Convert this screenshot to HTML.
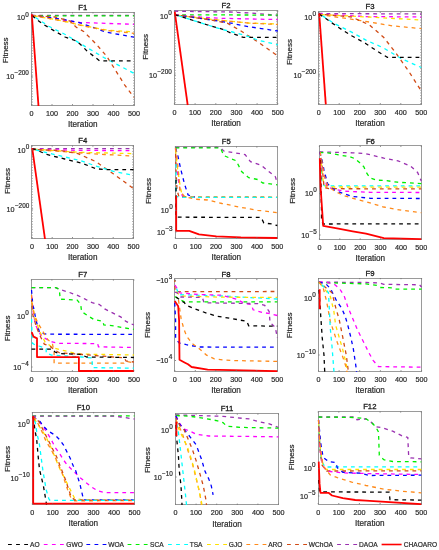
<!DOCTYPE html>
<html><head><meta charset="utf-8"><style>
html,body{margin:0;padding:0;background:#fff;width:439px;height:550px;overflow:hidden}
svg{will-change:transform} svg text{font-family:"Liberation Sans", sans-serif;stroke:#2a2a2a;stroke-width:0.2px}
</style></head><body>
<svg width="439" height="550" viewBox="0 0 439 550" style="display:block">
<rect width="439" height="550" fill="#fff"/>
<rect x="31.5" y="12.5" width="103.0" height="93.0" fill="none" stroke="#9a9a9a" stroke-width="1"/>
<line x1="32.4" y1="12.5" x2="32.4" y2="105.5" stroke="#8a8a8a" stroke-width="0.8" stroke-dasharray="0.9 1.8"/>
<line x1="133.6" y1="12.5" x2="133.6" y2="105.5" stroke="#8a8a8a" stroke-width="0.8" stroke-dasharray="0.9 1.8"/>
<clipPath id="cF1"><rect x="30.7" y="11.399999999999999" width="104.1" height="94.69999999999999"/></clipPath>
<g clip-path="url(#cF1)">
<polyline points="31.5,15.3 134.0,15.3" fill="none" stroke="#9a30b0" stroke-width="1.3" stroke-dasharray="3.8 4" stroke-dashoffset="0"/>
<polyline points="31.5,15.9 134.0,15.9" fill="none" stroke="#00ee00" stroke-width="1.3" stroke-dasharray="3.8 4" stroke-dashoffset="0"/>
<polyline points="32.0,15.5 48.8,17.5 65.0,20.5 80.0,22.5 134.0,24.3" fill="none" stroke="#ff00ff" stroke-width="1.3" stroke-dasharray="3.8 4" stroke-dashoffset="0"/>
<polyline points="32.0,15.5 48.8,17.5 64.0,19.5 80.0,22.8 106.8,32.3 134.0,37.1" fill="none" stroke="#0000ff" stroke-width="1.3" stroke-dasharray="3.8 4" stroke-dashoffset="0"/>
<polyline points="32.0,15.5 55.0,19.5 67.6,22.0 80.0,25.0 106.8,30.0 134.0,32.0" fill="none" stroke="#ffe000" stroke-width="1.3" stroke-dasharray="3.8 4" stroke-dashoffset="5.8"/>
<polyline points="32.0,15.5 55.0,19.5 67.6,22.0 80.0,25.2 106.8,30.5 134.0,33.3" fill="none" stroke="#ff8a1a" stroke-width="1.3" stroke-dasharray="3.8 4" stroke-dashoffset="0"/>
<polyline points="32.0,15.5 55.0,17.0 70.0,21.0 76.0,27.0 83.6,31.4 96.0,43.9 106.8,56.4 115.7,70.6 124.6,84.9 134.0,97.4" fill="none" stroke="#d04a14" stroke-width="1.3" stroke-dasharray="3.8 4" stroke-dashoffset="1.9"/>
<polyline points="32.0,15.5 39.4,20.0 48.8,26.3 66.3,35.0 81.0,44.0 105.0,58.2 134.0,73.3" fill="none" stroke="#00ffff" stroke-width="1.3" stroke-dasharray="3.8 4" stroke-dashoffset="3.9"/>
<polyline points="32.0,15.5 37.5,20.0 42.5,23.8 55.0,31.3 65.0,37.0 75.0,40.5 80.0,44.0 87.0,51.0 99.6,60.8 134.0,60.8" fill="none" stroke="#000000" stroke-width="1.3" stroke-dasharray="3.8 4" stroke-dashoffset="0"/>
<polyline points="31.8,14.3 38.5,106.0" fill="none" stroke="#ff0000" stroke-width="1.8" stroke-linejoin="round"/>
</g>
<line x1="31.5" y1="105.3" x2="31.5" y2="104.1" stroke="#707070" stroke-width="0.8"/>
<line x1="31.5" y1="12.2" x2="31.5" y2="13.399999999999999" stroke="#707070" stroke-width="0.8"/>
<text x="31.5" y="115.9" text-anchor="middle" font-size="7.2" fill="#2a2a2a">0</text>
<line x1="52.0" y1="105.3" x2="52.0" y2="104.1" stroke="#707070" stroke-width="0.8"/>
<line x1="52.0" y1="12.2" x2="52.0" y2="13.399999999999999" stroke="#707070" stroke-width="0.8"/>
<text x="52.0" y="115.9" text-anchor="middle" font-size="7.2" fill="#2a2a2a">100</text>
<line x1="72.5" y1="105.3" x2="72.5" y2="104.1" stroke="#707070" stroke-width="0.8"/>
<line x1="72.5" y1="12.2" x2="72.5" y2="13.399999999999999" stroke="#707070" stroke-width="0.8"/>
<text x="72.5" y="115.9" text-anchor="middle" font-size="7.2" fill="#2a2a2a">200</text>
<line x1="93.0" y1="105.3" x2="93.0" y2="104.1" stroke="#707070" stroke-width="0.8"/>
<line x1="93.0" y1="12.2" x2="93.0" y2="13.399999999999999" stroke="#707070" stroke-width="0.8"/>
<text x="93.0" y="115.9" text-anchor="middle" font-size="7.2" fill="#2a2a2a">300</text>
<line x1="113.5" y1="105.3" x2="113.5" y2="104.1" stroke="#707070" stroke-width="0.8"/>
<line x1="113.5" y1="12.2" x2="113.5" y2="13.399999999999999" stroke="#707070" stroke-width="0.8"/>
<text x="113.5" y="115.9" text-anchor="middle" font-size="7.2" fill="#2a2a2a">400</text>
<line x1="134.0" y1="105.3" x2="134.0" y2="104.1" stroke="#707070" stroke-width="0.8"/>
<line x1="134.0" y1="12.2" x2="134.0" y2="13.399999999999999" stroke="#707070" stroke-width="0.8"/>
<text x="134.0" y="115.9" text-anchor="middle" font-size="7.2" fill="#2a2a2a">500</text>
<text x="82.8" y="127.1" text-anchor="middle" font-size="8.2" fill="#2a2a2a">Iteration</text>
<text x="82.8" y="9.9" text-anchor="middle" font-size="7.7" font-weight="normal" fill="#1a1a1a" style="stroke:#1a1a1a;stroke-width:0.3px">F1</text>
<text transform="translate(8.2,50.3) rotate(-90)" text-anchor="middle" font-size="8" fill="#2a2a2a">Fitness</text>
<line x1="31.5" y1="17.8" x2="32.7" y2="17.8" stroke="#707070" stroke-width="0.8"/>
<text x="28.9" y="20.4" text-anchor="end" font-size="7.2" fill="#2a2a2a">10<tspan dx="0.3" dy="-3.7" font-size="6.4">0</tspan></text>
<line x1="31.5" y1="76.3" x2="32.7" y2="76.3" stroke="#707070" stroke-width="0.8"/>
<text x="28.9" y="78.9" text-anchor="end" font-size="7.2" fill="#2a2a2a">10<tspan dx="0.3" dy="-3.7" font-size="6.4">−200</tspan></text>
<rect x="174.5" y="10.5" width="103.0" height="94.0" fill="none" stroke="#9a9a9a" stroke-width="1"/>
<line x1="175.4" y1="10.5" x2="175.4" y2="104.5" stroke="#8a8a8a" stroke-width="0.8" stroke-dasharray="0.9 1.8"/>
<line x1="276.6" y1="10.5" x2="276.6" y2="104.5" stroke="#8a8a8a" stroke-width="0.8" stroke-dasharray="0.9 1.8"/>
<clipPath id="cF2"><rect x="173.6" y="9.7" width="105.0" height="95.5"/></clipPath>
<g clip-path="url(#cF2)">
<polyline points="174.4,11.2 230.0,12.0 250.0,13.0 277.8,15.3" fill="none" stroke="#9a30b0" stroke-width="1.3" stroke-dasharray="3.8 4" stroke-dashoffset="0"/>
<polyline points="174.4,14.8 277.8,15.1" fill="none" stroke="#00ee00" stroke-width="1.3" stroke-dasharray="3.8 4" stroke-dashoffset="0"/>
<polyline points="175.0,14.5 200.0,17.0 222.0,18.3 277.8,19.6" fill="none" stroke="#ff00ff" stroke-width="1.3" stroke-dasharray="3.8 4" stroke-dashoffset="0"/>
<polyline points="175.0,14.8 200.0,18.0 222.0,20.5 248.7,23.0 277.8,24.0" fill="none" stroke="#ffe000" stroke-width="1.3" stroke-dasharray="3.8 4" stroke-dashoffset="5.8"/>
<polyline points="175.0,14.8 200.0,18.0 222.0,20.5 248.7,23.1 277.8,24.5" fill="none" stroke="#ff8a1a" stroke-width="1.3" stroke-dasharray="3.8 4" stroke-dashoffset="0"/>
<polyline points="175.0,14.8 205.0,19.0 230.9,23.1 248.7,26.7 277.8,31.0" fill="none" stroke="#0000ff" stroke-width="1.3" stroke-dasharray="3.8 4" stroke-dashoffset="0"/>
<polyline points="175.0,14.8 205.0,19.0 227.3,23.1 239.8,30.2 257.6,41.8 277.8,56.0" fill="none" stroke="#d04a14" stroke-width="1.3" stroke-dasharray="3.8 4" stroke-dashoffset="1.9"/>
<polyline points="175.0,14.8 179.1,16.0 193.4,20.5 207.7,25.0 222.0,29.0 230.9,33.0 243.4,37.4 277.8,37.4" fill="none" stroke="#000000" stroke-width="1.3" stroke-dasharray="3.8 4" stroke-dashoffset="0"/>
<polyline points="175.0,14.8 179.1,16.0 193.4,20.5 207.7,25.0 222.0,29.4 232.7,32.0 248.7,36.5 257.6,40.0 277.8,44.8" fill="none" stroke="#00ffff" stroke-width="1.3" stroke-dasharray="3.8 4" stroke-dashoffset="3.9"/>
<polyline points="174.7,11.6 187.7,105.2" fill="none" stroke="#ff0000" stroke-width="1.8" stroke-linejoin="round"/>
</g>
<line x1="174.4" y1="104.4" x2="174.4" y2="103.2" stroke="#707070" stroke-width="0.8"/>
<line x1="174.4" y1="10.5" x2="174.4" y2="11.7" stroke="#707070" stroke-width="0.8"/>
<text x="174.4" y="115.0" text-anchor="middle" font-size="7.2" fill="#2a2a2a">0</text>
<line x1="195.1" y1="104.4" x2="195.1" y2="103.2" stroke="#707070" stroke-width="0.8"/>
<line x1="195.1" y1="10.5" x2="195.1" y2="11.7" stroke="#707070" stroke-width="0.8"/>
<text x="195.1" y="115.0" text-anchor="middle" font-size="7.2" fill="#2a2a2a">100</text>
<line x1="215.8" y1="104.4" x2="215.8" y2="103.2" stroke="#707070" stroke-width="0.8"/>
<line x1="215.8" y1="10.5" x2="215.8" y2="11.7" stroke="#707070" stroke-width="0.8"/>
<text x="215.8" y="115.0" text-anchor="middle" font-size="7.2" fill="#2a2a2a">200</text>
<line x1="236.4" y1="104.4" x2="236.4" y2="103.2" stroke="#707070" stroke-width="0.8"/>
<line x1="236.4" y1="10.5" x2="236.4" y2="11.7" stroke="#707070" stroke-width="0.8"/>
<text x="236.4" y="115.0" text-anchor="middle" font-size="7.2" fill="#2a2a2a">300</text>
<line x1="257.1" y1="104.4" x2="257.1" y2="103.2" stroke="#707070" stroke-width="0.8"/>
<line x1="257.1" y1="10.5" x2="257.1" y2="11.7" stroke="#707070" stroke-width="0.8"/>
<text x="257.1" y="115.0" text-anchor="middle" font-size="7.2" fill="#2a2a2a">400</text>
<line x1="277.8" y1="104.4" x2="277.8" y2="103.2" stroke="#707070" stroke-width="0.8"/>
<line x1="277.8" y1="10.5" x2="277.8" y2="11.7" stroke="#707070" stroke-width="0.8"/>
<text x="277.8" y="115.0" text-anchor="middle" font-size="7.2" fill="#2a2a2a">500</text>
<text x="226.1" y="126.2" text-anchor="middle" font-size="8.2" fill="#2a2a2a">Iteration</text>
<text x="226.1" y="8.2" text-anchor="middle" font-size="7.7" font-weight="normal" fill="#1a1a1a" style="stroke:#1a1a1a;stroke-width:0.3px">F2</text>
<text transform="translate(147.7,46.8) rotate(-90)" text-anchor="middle" font-size="8" fill="#2a2a2a">Fitness</text>
<line x1="174.4" y1="16.5" x2="175.6" y2="16.5" stroke="#707070" stroke-width="0.8"/>
<text x="171.8" y="19.1" text-anchor="end" font-size="7.2" fill="#2a2a2a">10<tspan dx="0.3" dy="-3.7" font-size="6.4">0</tspan></text>
<line x1="174.4" y1="75" x2="175.6" y2="75" stroke="#707070" stroke-width="0.8"/>
<text x="171.8" y="77.6" text-anchor="end" font-size="7.2" fill="#2a2a2a">10<tspan dx="0.3" dy="-3.7" font-size="6.4">−200</tspan></text>
<rect x="318.5" y="11.5" width="103.0" height="93.0" fill="none" stroke="#9a9a9a" stroke-width="1"/>
<line x1="319.4" y1="11.5" x2="319.4" y2="104.5" stroke="#8a8a8a" stroke-width="0.8" stroke-dasharray="0.9 1.8"/>
<line x1="420.6" y1="11.5" x2="420.6" y2="104.5" stroke="#8a8a8a" stroke-width="0.8" stroke-dasharray="0.9 1.8"/>
<clipPath id="cF3"><rect x="317.9" y="10.899999999999999" width="104.20000000000002" height="94.19999999999999"/></clipPath>
<g clip-path="url(#cF3)">
<polyline points="318.7,13.5 421.3,14.0" fill="none" stroke="#9a30b0" stroke-width="1.3" stroke-dasharray="3.8 4" stroke-dashoffset="0"/>
<polyline points="319.0,14.0 366.0,16.5 421.3,17.0" fill="none" stroke="#ff00ff" stroke-width="1.3" stroke-dasharray="3.8 4" stroke-dashoffset="0"/>
<polyline points="319.0,14.5 351.7,16.1 421.3,20.0" fill="none" stroke="#ffe000" stroke-width="1.3" stroke-dasharray="3.8 4" stroke-dashoffset="5.8"/>
<polyline points="319.0,14.5 323.1,15.2 342.8,17.9 360.6,20.6 392.7,25.9 421.3,28.6" fill="none" stroke="#ff8a1a" stroke-width="1.3" stroke-dasharray="3.8 4" stroke-dashoffset="0"/>
<polyline points="319.0,14.0 351.7,17.0 369.6,25.0 383.8,37.5 396.2,53.5 408.7,71.3 421.3,91.0" fill="none" stroke="#d04a14" stroke-width="1.3" stroke-dasharray="3.8 4" stroke-dashoffset="1.9"/>
<polyline points="319.0,14.0 323.0,16.1 333.8,23.3 351.7,32.2 366.0,40.1 383.8,48.1 401.6,58.8 421.3,67.5" fill="none" stroke="#00ffff" stroke-width="1.3" stroke-dasharray="3.8 4" stroke-dashoffset="3.9"/>
<polyline points="319.0,14.0 324.9,17.9 337.4,26.8 351.7,35.8 366.0,43.7 376.7,50.8 387.4,57.4 421.3,57.4" fill="none" stroke="#000000" stroke-width="1.3" stroke-dasharray="3.8 4" stroke-dashoffset="0"/>
<polyline points="319.2,13.5 325.8,104.4" fill="none" stroke="#ff0000" stroke-width="1.8" stroke-linejoin="round"/>
</g>
<line x1="318.7" y1="104.3" x2="318.7" y2="103.1" stroke="#707070" stroke-width="0.8"/>
<line x1="318.7" y1="11.7" x2="318.7" y2="12.899999999999999" stroke="#707070" stroke-width="0.8"/>
<text x="318.7" y="114.9" text-anchor="middle" font-size="7.2" fill="#2a2a2a">0</text>
<line x1="339.2" y1="104.3" x2="339.2" y2="103.1" stroke="#707070" stroke-width="0.8"/>
<line x1="339.2" y1="11.7" x2="339.2" y2="12.899999999999999" stroke="#707070" stroke-width="0.8"/>
<text x="339.2" y="114.9" text-anchor="middle" font-size="7.2" fill="#2a2a2a">100</text>
<line x1="359.7" y1="104.3" x2="359.7" y2="103.1" stroke="#707070" stroke-width="0.8"/>
<line x1="359.7" y1="11.7" x2="359.7" y2="12.899999999999999" stroke="#707070" stroke-width="0.8"/>
<text x="359.7" y="114.9" text-anchor="middle" font-size="7.2" fill="#2a2a2a">200</text>
<line x1="380.3" y1="104.3" x2="380.3" y2="103.1" stroke="#707070" stroke-width="0.8"/>
<line x1="380.3" y1="11.7" x2="380.3" y2="12.899999999999999" stroke="#707070" stroke-width="0.8"/>
<text x="380.3" y="114.9" text-anchor="middle" font-size="7.2" fill="#2a2a2a">300</text>
<line x1="400.8" y1="104.3" x2="400.8" y2="103.1" stroke="#707070" stroke-width="0.8"/>
<line x1="400.8" y1="11.7" x2="400.8" y2="12.899999999999999" stroke="#707070" stroke-width="0.8"/>
<text x="400.8" y="114.9" text-anchor="middle" font-size="7.2" fill="#2a2a2a">400</text>
<line x1="421.3" y1="104.3" x2="421.3" y2="103.1" stroke="#707070" stroke-width="0.8"/>
<line x1="421.3" y1="11.7" x2="421.3" y2="12.899999999999999" stroke="#707070" stroke-width="0.8"/>
<text x="421.3" y="114.9" text-anchor="middle" font-size="7.2" fill="#2a2a2a">500</text>
<text x="370.0" y="126.1" text-anchor="middle" font-size="8.2" fill="#2a2a2a">Iteration</text>
<text x="370.0" y="9.4" text-anchor="middle" font-size="7.7" font-weight="normal" fill="#1a1a1a" style="stroke:#1a1a1a;stroke-width:0.3px">F3</text>
<text transform="translate(291.5,52.0) rotate(-90)" text-anchor="middle" font-size="8" fill="#2a2a2a">Fitness</text>
<line x1="318.7" y1="17.5" x2="319.9" y2="17.5" stroke="#707070" stroke-width="0.8"/>
<text x="316.1" y="20.1" text-anchor="end" font-size="7.2" fill="#2a2a2a">10<tspan dx="0.3" dy="-3.7" font-size="6.4">0</tspan></text>
<line x1="318.7" y1="75" x2="319.9" y2="75" stroke="#707070" stroke-width="0.8"/>
<text x="316.1" y="77.6" text-anchor="end" font-size="7.2" fill="#2a2a2a">10<tspan dx="0.3" dy="-3.7" font-size="6.4">−200</tspan></text>
<rect x="31.5" y="145.5" width="102.0" height="93.0" fill="none" stroke="#9a9a9a" stroke-width="1"/>
<line x1="32.4" y1="145.5" x2="32.4" y2="238.5" stroke="#8a8a8a" stroke-width="0.8" stroke-dasharray="0.9 1.8"/>
<line x1="132.6" y1="145.5" x2="132.6" y2="238.5" stroke="#8a8a8a" stroke-width="0.8" stroke-dasharray="0.9 1.8"/>
<clipPath id="cF4"><rect x="31.099999999999998" y="144.7" width="103.19999999999999" height="94.29999999999998"/></clipPath>
<g clip-path="url(#cF4)">
<polyline points="32.0,148.6 133.5,148.6" fill="none" stroke="#9a30b0" stroke-width="1.3" stroke-dasharray="3.8 4" stroke-dashoffset="0"/>
<polyline points="32.0,149.2 78.0,150.4 133.5,150.6" fill="none" stroke="#ff00ff" stroke-width="1.3" stroke-dasharray="3.8 4" stroke-dashoffset="0"/>
<polyline points="32.0,149.0 60.0,151.0 78.0,152.3 133.5,153.6" fill="none" stroke="#ffe000" stroke-width="1.3" stroke-dasharray="3.8 4" stroke-dashoffset="5.8"/>
<polyline points="32.0,149.5 60.0,151.5 78.0,152.7 104.7,154.5 133.5,156.0" fill="none" stroke="#ff8a1a" stroke-width="1.3" stroke-dasharray="3.8 4" stroke-dashoffset="0"/>
<polyline points="32.0,149.5 60.0,150.5 78.0,153.6 95.8,161.6 113.6,174.0 133.5,188.5" fill="none" stroke="#d04a14" stroke-width="1.3" stroke-dasharray="3.8 4" stroke-dashoffset="1.9"/>
<polyline points="32.0,149.0 36.1,150.0 50.4,153.6 73.6,159.0 80.0,160.5 95.8,166.0 113.6,171.4 133.5,175.3" fill="none" stroke="#00ffff" stroke-width="1.3" stroke-dasharray="3.8 4" stroke-dashoffset="3.9"/>
<polyline points="32.0,149.0 34.4,149.1 46.8,154.5 64.7,159.0 82.5,163.4 95.8,168.7 104.7,169.6 133.5,169.6" fill="none" stroke="#000000" stroke-width="1.3" stroke-dasharray="3.8 4" stroke-dashoffset="0"/>
<polyline points="32.2,148.2 45.0,239.2" fill="none" stroke="#ff0000" stroke-width="1.8" stroke-linejoin="round"/>
</g>
<line x1="31.9" y1="238.2" x2="31.9" y2="237.0" stroke="#707070" stroke-width="0.8"/>
<line x1="31.9" y1="145.5" x2="31.9" y2="146.7" stroke="#707070" stroke-width="0.8"/>
<text x="31.9" y="248.8" text-anchor="middle" font-size="7.2" fill="#2a2a2a">0</text>
<line x1="52.2" y1="238.2" x2="52.2" y2="237.0" stroke="#707070" stroke-width="0.8"/>
<line x1="52.2" y1="145.5" x2="52.2" y2="146.7" stroke="#707070" stroke-width="0.8"/>
<text x="52.2" y="248.8" text-anchor="middle" font-size="7.2" fill="#2a2a2a">100</text>
<line x1="72.5" y1="238.2" x2="72.5" y2="237.0" stroke="#707070" stroke-width="0.8"/>
<line x1="72.5" y1="145.5" x2="72.5" y2="146.7" stroke="#707070" stroke-width="0.8"/>
<text x="72.5" y="248.8" text-anchor="middle" font-size="7.2" fill="#2a2a2a">200</text>
<line x1="92.9" y1="238.2" x2="92.9" y2="237.0" stroke="#707070" stroke-width="0.8"/>
<line x1="92.9" y1="145.5" x2="92.9" y2="146.7" stroke="#707070" stroke-width="0.8"/>
<text x="92.9" y="248.8" text-anchor="middle" font-size="7.2" fill="#2a2a2a">300</text>
<line x1="113.2" y1="238.2" x2="113.2" y2="237.0" stroke="#707070" stroke-width="0.8"/>
<line x1="113.2" y1="145.5" x2="113.2" y2="146.7" stroke="#707070" stroke-width="0.8"/>
<text x="113.2" y="248.8" text-anchor="middle" font-size="7.2" fill="#2a2a2a">400</text>
<line x1="133.5" y1="238.2" x2="133.5" y2="237.0" stroke="#707070" stroke-width="0.8"/>
<line x1="133.5" y1="145.5" x2="133.5" y2="146.7" stroke="#707070" stroke-width="0.8"/>
<text x="133.5" y="248.8" text-anchor="middle" font-size="7.2" fill="#2a2a2a">500</text>
<text x="82.7" y="260.0" text-anchor="middle" font-size="8.2" fill="#2a2a2a">Iteration</text>
<text x="82.7" y="143.2" text-anchor="middle" font-size="7.7" font-weight="normal" fill="#1a1a1a" style="stroke:#1a1a1a;stroke-width:0.3px">F4</text>
<text transform="translate(9.5,181.0) rotate(-90)" text-anchor="middle" font-size="8" fill="#2a2a2a">Fitness</text>
<line x1="31.9" y1="150" x2="33.1" y2="150" stroke="#707070" stroke-width="0.8"/>
<text x="29.3" y="152.6" text-anchor="end" font-size="7.2" fill="#2a2a2a">10<tspan dx="0.3" dy="-3.7" font-size="6.4">0</tspan></text>
<line x1="31.9" y1="209" x2="33.1" y2="209" stroke="#707070" stroke-width="0.8"/>
<text x="29.3" y="211.6" text-anchor="end" font-size="7.2" fill="#2a2a2a">10<tspan dx="0.3" dy="-3.7" font-size="6.4">−200</tspan></text>
<rect x="175.5" y="146.5" width="102.0" height="92.0" fill="none" stroke="#9a9a9a" stroke-width="1"/>
<clipPath id="cF5"><rect x="174.5" y="145.6" width="103.6" height="93.6"/></clipPath>
<g clip-path="url(#cF5)">
<polyline points="175.5,148.0 177.0,170.0 180.0,190.0 183.0,197.3 186.0,197.3" fill="none" stroke="#ff00ff" stroke-width="1.3" stroke-dasharray="3.8 4" stroke-dashoffset="0"/>
<polyline points="175.5,147.3 220.0,147.3 223.7,151.0 245.1,154.6 250.5,161.7 261.1,165.2 266.5,169.7 275.4,176.8 277.3,183.0" fill="none" stroke="#9a30b0" stroke-width="1.3" stroke-dasharray="3.8 4" stroke-dashoffset="0"/>
<polyline points="175.5,147.8 220.5,147.8 223.7,155.5 236.2,160.8 241.6,171.5 248.7,177.7 257.6,179.5 262.9,183.0 277.3,184.8" fill="none" stroke="#00ee00" stroke-width="1.3" stroke-dasharray="3.8 4" stroke-dashoffset="0"/>
<polyline points="175.5,148.0 177.4,153.7 180.9,169.8 184.5,184.0 188.0,194.7 191.6,196.8 195.0,197.0" fill="none" stroke="#0000ff" stroke-width="1.3" stroke-dasharray="3.8 4" stroke-dashoffset="0"/>
<polyline points="175.5,148.0 177.0,165.0 180.0,185.0 182.0,195.0 185.0,197.0 277.3,197.3" fill="none" stroke="#ffe000" stroke-width="1.3" stroke-dasharray="3.8 4" stroke-dashoffset="5.8"/>
<polyline points="175.5,148.0 176.0,170.0 177.0,190.0 179.0,197.0 277.3,197.3" fill="none" stroke="#d04a14" stroke-width="1.3" stroke-dasharray="3.8 4" stroke-dashoffset="1.9"/>
<polyline points="176.0,160.0 176.0,196.5 180.0,197.3 277.3,197.3" fill="none" stroke="#00ffff" stroke-width="1.3" stroke-dasharray="3.8 4" stroke-dashoffset="3.9"/>
<polyline points="175.5,148.0 177.4,160.8 179.1,178.7 180.0,191.2 184.5,196.5 195.2,199.2 207.7,200.0 222.0,203.5 239.8,207.1 257.6,210.3 277.3,212.6" fill="none" stroke="#ff8a1a" stroke-width="1.3" stroke-dasharray="3.8 4" stroke-dashoffset="0"/>
<polyline points="176.0,180.0 176.0,217.2 261.1,217.4 263.8,223.0 271.8,224.0 277.3,225.5" fill="none" stroke="#000000" stroke-width="1.3" stroke-dasharray="3.8 4" stroke-dashoffset="0"/>
<polyline points="176.2,195.5 176.2,230.8 189.2,230.8 199.0,234.3 216.3,236.4 240.9,237.4 277.3,238.0" fill="none" stroke="#ff0000" stroke-width="1.8" stroke-linejoin="round"/>
</g>
<line x1="175.3" y1="238.4" x2="175.3" y2="237.20000000000002" stroke="#707070" stroke-width="0.8"/>
<line x1="175.3" y1="146.4" x2="175.3" y2="147.6" stroke="#707070" stroke-width="0.8"/>
<text x="175.3" y="249.0" text-anchor="middle" font-size="7.2" fill="#2a2a2a">0</text>
<line x1="195.7" y1="238.4" x2="195.7" y2="237.20000000000002" stroke="#707070" stroke-width="0.8"/>
<line x1="195.7" y1="146.4" x2="195.7" y2="147.6" stroke="#707070" stroke-width="0.8"/>
<text x="195.7" y="249.0" text-anchor="middle" font-size="7.2" fill="#2a2a2a">100</text>
<line x1="216.1" y1="238.4" x2="216.1" y2="237.20000000000002" stroke="#707070" stroke-width="0.8"/>
<line x1="216.1" y1="146.4" x2="216.1" y2="147.6" stroke="#707070" stroke-width="0.8"/>
<text x="216.1" y="249.0" text-anchor="middle" font-size="7.2" fill="#2a2a2a">200</text>
<line x1="236.5" y1="238.4" x2="236.5" y2="237.20000000000002" stroke="#707070" stroke-width="0.8"/>
<line x1="236.5" y1="146.4" x2="236.5" y2="147.6" stroke="#707070" stroke-width="0.8"/>
<text x="236.5" y="249.0" text-anchor="middle" font-size="7.2" fill="#2a2a2a">300</text>
<line x1="256.9" y1="238.4" x2="256.9" y2="237.20000000000002" stroke="#707070" stroke-width="0.8"/>
<line x1="256.9" y1="146.4" x2="256.9" y2="147.6" stroke="#707070" stroke-width="0.8"/>
<text x="256.9" y="249.0" text-anchor="middle" font-size="7.2" fill="#2a2a2a">400</text>
<line x1="277.3" y1="238.4" x2="277.3" y2="237.20000000000002" stroke="#707070" stroke-width="0.8"/>
<line x1="277.3" y1="146.4" x2="277.3" y2="147.6" stroke="#707070" stroke-width="0.8"/>
<text x="277.3" y="249.0" text-anchor="middle" font-size="7.2" fill="#2a2a2a">500</text>
<text x="226.3" y="260.2" text-anchor="middle" font-size="8.2" fill="#2a2a2a">Iteration</text>
<text x="226.3" y="144.2" text-anchor="middle" font-size="7.7" font-weight="normal" fill="#1a1a1a" style="stroke:#1a1a1a;stroke-width:0.3px">F5</text>
<text transform="translate(151.1,191.0) rotate(-90)" text-anchor="middle" font-size="8" fill="#2a2a2a">Fitness</text>
<line x1="175.3" y1="210.5" x2="176.5" y2="210.5" stroke="#707070" stroke-width="0.8"/>
<text x="172.7" y="213.1" text-anchor="end" font-size="7.2" fill="#2a2a2a">10<tspan dx="0.3" dy="-3.7" font-size="6.4">0</tspan></text>
<line x1="175.3" y1="232" x2="176.5" y2="232" stroke="#707070" stroke-width="0.8"/>
<text x="172.7" y="234.6" text-anchor="end" font-size="7.2" fill="#2a2a2a">10<tspan dx="0.3" dy="-3.7" font-size="6.4">−3</tspan></text>
<rect x="319.5" y="145.5" width="102.0" height="94.0" fill="none" stroke="#9a9a9a" stroke-width="1"/>
<clipPath id="cF6"><rect x="318.59999999999997" y="144.95" width="103.50000000000003" height="95.44999999999999"/></clipPath>
<g clip-path="url(#cF6)">
<polyline points="319.5,151.9 352.7,152.8 366.0,153.7 383.8,158.1 398.0,160.8 410.5,166.1 417.6,172.4 421.3,181.0" fill="none" stroke="#9a30b0" stroke-width="1.3" stroke-dasharray="3.8 4" stroke-dashoffset="0"/>
<polyline points="319.5,152.5 327.7,152.8 340.2,155.2 349.6,156.6 355.0,158.7 359.8,162.8 363.9,166.9 366.6,173.0 370.0,177.8 376.9,180.2 385.0,180.5 397.4,182.2 421.3,183.6" fill="none" stroke="#00ee00" stroke-width="1.3" stroke-dasharray="3.8 4" stroke-dashoffset="0"/>
<polyline points="320.5,158.0 321.5,170.0 322.0,184.0 325.0,185.8 421.3,185.8" fill="none" stroke="#00ffff" stroke-width="1.3" stroke-dasharray="3.8 4" stroke-dashoffset="3.9"/>
<polyline points="321.0,160.0 323.0,180.0 326.0,187.0 421.3,187.1" fill="none" stroke="#ffe000" stroke-width="1.3" stroke-dasharray="3.8 4" stroke-dashoffset="5.8"/>
<polyline points="320.0,152.0 322.0,165.0 324.1,187.6 330.0,188.7 421.3,188.9" fill="none" stroke="#d04a14" stroke-width="1.3" stroke-dasharray="3.8 4" stroke-dashoffset="1.9"/>
<polyline points="320.0,152.0 323.0,170.0 327.0,187.0 334.8,189.4 343.8,191.2 370.5,192.3 421.3,192.5" fill="none" stroke="#ff00ff" stroke-width="1.3" stroke-dasharray="3.8 4" stroke-dashoffset="0"/>
<polyline points="319.5,152.0 321.5,157.3 324.0,170.0 327.7,184.0 334.8,190.3 343.8,193.8 352.7,196.5 370.5,198.3 421.3,198.5" fill="none" stroke="#0000ff" stroke-width="1.3" stroke-dasharray="3.8 4" stroke-dashoffset="0"/>
<polyline points="320.0,152.0 322.0,162.0 324.1,175.1 327.7,185.8 334.8,191.2 343.8,195.6 356.2,199.2 366.0,201.7 383.8,207.0 401.6,210.3 421.3,212.6" fill="none" stroke="#ff8a1a" stroke-width="1.3" stroke-dasharray="3.8 4" stroke-dashoffset="0"/>
<polyline points="320.5,160.0 321.5,210.8 321.5,219.7 323.0,224.0 421.3,223.8" fill="none" stroke="#000000" stroke-width="1.3" stroke-dasharray="3.8 4" stroke-dashoffset="0"/>
<polyline points="319.7,158.2 320.6,187.6 323.2,225.9 338.4,228.6 352.7,231.3 366.0,233.7 383.8,238.2 421.3,239.1" fill="none" stroke="#ff0000" stroke-width="1.8" stroke-linejoin="round"/>
</g>
<line x1="319.4" y1="239.6" x2="319.4" y2="238.4" stroke="#707070" stroke-width="0.8"/>
<line x1="319.4" y1="145.75" x2="319.4" y2="146.95" stroke="#707070" stroke-width="0.8"/>
<text x="319.4" y="250.2" text-anchor="middle" font-size="7.2" fill="#2a2a2a">0</text>
<line x1="339.8" y1="239.6" x2="339.8" y2="238.4" stroke="#707070" stroke-width="0.8"/>
<line x1="339.8" y1="145.75" x2="339.8" y2="146.95" stroke="#707070" stroke-width="0.8"/>
<text x="339.8" y="250.2" text-anchor="middle" font-size="7.2" fill="#2a2a2a">100</text>
<line x1="360.2" y1="239.6" x2="360.2" y2="238.4" stroke="#707070" stroke-width="0.8"/>
<line x1="360.2" y1="145.75" x2="360.2" y2="146.95" stroke="#707070" stroke-width="0.8"/>
<text x="360.2" y="250.2" text-anchor="middle" font-size="7.2" fill="#2a2a2a">200</text>
<line x1="380.5" y1="239.6" x2="380.5" y2="238.4" stroke="#707070" stroke-width="0.8"/>
<line x1="380.5" y1="145.75" x2="380.5" y2="146.95" stroke="#707070" stroke-width="0.8"/>
<text x="380.5" y="250.2" text-anchor="middle" font-size="7.2" fill="#2a2a2a">300</text>
<line x1="400.9" y1="239.6" x2="400.9" y2="238.4" stroke="#707070" stroke-width="0.8"/>
<line x1="400.9" y1="145.75" x2="400.9" y2="146.95" stroke="#707070" stroke-width="0.8"/>
<text x="400.9" y="250.2" text-anchor="middle" font-size="7.2" fill="#2a2a2a">400</text>
<line x1="421.3" y1="239.6" x2="421.3" y2="238.4" stroke="#707070" stroke-width="0.8"/>
<line x1="421.3" y1="145.75" x2="421.3" y2="146.95" stroke="#707070" stroke-width="0.8"/>
<text x="421.3" y="250.2" text-anchor="middle" font-size="7.2" fill="#2a2a2a">500</text>
<text x="370.4" y="261.4" text-anchor="middle" font-size="8.2" fill="#2a2a2a">Iteration</text>
<text x="370.4" y="143.5" text-anchor="middle" font-size="7.7" font-weight="normal" fill="#1a1a1a" style="stroke:#1a1a1a;stroke-width:0.3px">F6</text>
<text transform="translate(294.5,190.9) rotate(-90)" text-anchor="middle" font-size="8" fill="#2a2a2a">Fitness</text>
<line x1="319.4" y1="193.5" x2="320.59999999999997" y2="193.5" stroke="#707070" stroke-width="0.8"/>
<text x="316.8" y="196.1" text-anchor="end" font-size="7.2" fill="#2a2a2a">10<tspan dx="0.3" dy="-3.7" font-size="6.4">0</tspan></text>
<line x1="319.4" y1="235" x2="320.59999999999997" y2="235" stroke="#707070" stroke-width="0.8"/>
<text x="316.8" y="237.6" text-anchor="end" font-size="7.2" fill="#2a2a2a">10<tspan dx="0.3" dy="-3.7" font-size="6.4">−5</tspan></text>
<rect x="31.5" y="279.5" width="102.0" height="92.0" fill="none" stroke="#9a9a9a" stroke-width="1"/>
<clipPath id="cF7"><rect x="30.599999999999998" y="278.59999999999997" width="104.1" height="93.6"/></clipPath>
<g clip-path="url(#cF7)">
<polyline points="31.5,287.6 55.8,287.6 59.3,289.4 68.2,292.0 78.0,295.6 85.1,299.1 92.2,302.7 99.4,304.5 104.7,308.9 113.6,313.4 120.7,316.9 126.0,321.4 133.9,325.0" fill="none" stroke="#9a30b0" stroke-width="1.3" stroke-dasharray="3.8 4" stroke-dashoffset="0"/>
<polyline points="31.5,287.6 55.8,287.6 59.3,289.4 60.2,299.2 77.2,300.1 80.7,304.5 81.6,311.6 86.9,315.1 94.0,319.6 102.9,321.4 103.8,324.9 113.6,325.8 122.5,327.6 133.9,329.3" fill="none" stroke="#00ee00" stroke-width="1.3" stroke-dasharray="3.8 4" stroke-dashoffset="0"/>
<polyline points="31.5,290.0 32.6,302.8 36.1,320.6 39.7,333.0 46.8,334.2 133.9,334.4" fill="none" stroke="#0000ff" stroke-width="1.3" stroke-dasharray="3.8 4" stroke-dashoffset="0"/>
<polyline points="31.5,295.0 33.5,315.0 36.1,326.0 41.5,336.6 52.2,342.0 59.3,343.3 97.6,343.6 98.5,346.8 133.9,347.5" fill="none" stroke="#ff00ff" stroke-width="1.3" stroke-dasharray="3.8 4" stroke-dashoffset="0"/>
<polyline points="31.5,300.0 34.4,317.0 39.7,331.3 45.1,342.0 52.2,347.3 59.3,349.5 78.0,354.0 133.9,355.0" fill="none" stroke="#ffe000" stroke-width="1.3" stroke-dasharray="3.8 4" stroke-dashoffset="5.8"/>
<polyline points="31.5,295.0 32.0,303.0 34.4,314.6 37.7,322.8 42.6,331.0 47.5,339.2 52.5,344.1 54.1,352.3 54.1,363.2 124.0,363.2 126.0,361.4 133.9,363.0" fill="none" stroke="#ff8a1a" stroke-width="1.3" stroke-dasharray="3.8 4" stroke-dashoffset="0"/>
<polyline points="31.5,300.0 32.8,314.6 36.1,326.0 39.3,334.3 44.3,344.1 49.2,345.7 55.7,350.7 59.3,352.7 82.5,354.5 124.3,357.9 126.0,361.0 133.9,362.0" fill="none" stroke="#d04a14" stroke-width="1.3" stroke-dasharray="3.8 4" stroke-dashoffset="1.9"/>
<polyline points="31.5,315.0 32.0,335.0 32.5,343.3 35.3,345.1 38.9,346.0 46.2,348.7 46.2,353.3 51.6,355.1 81.6,357.0 92.2,357.9 92.2,367.6 133.9,368.2" fill="none" stroke="#00ffff" stroke-width="1.3" stroke-dasharray="3.8 4" stroke-dashoffset="3.9"/>
<polyline points="31.5,349.1 52.2,349.1 55.0,352.0 59.3,353.6 79.8,354.3 86.9,357.0 133.9,357.5" fill="none" stroke="#000000" stroke-width="1.3" stroke-dasharray="3.8 4" stroke-dashoffset="0"/>
<polyline points="31.7,332.2 33.5,336.6 37.0,338.4 37.0,357.1 78.9,357.1 78.9,371.0 133.9,371.0" fill="none" stroke="#ff0000" stroke-width="1.8" stroke-linejoin="round"/>
</g>
<line x1="31.4" y1="371.4" x2="31.4" y2="370.2" stroke="#707070" stroke-width="0.8"/>
<line x1="31.4" y1="279.4" x2="31.4" y2="280.59999999999997" stroke="#707070" stroke-width="0.8"/>
<text x="31.4" y="382.0" text-anchor="middle" font-size="7.2" fill="#2a2a2a">0</text>
<line x1="51.9" y1="371.4" x2="51.9" y2="370.2" stroke="#707070" stroke-width="0.8"/>
<line x1="51.9" y1="279.4" x2="51.9" y2="280.59999999999997" stroke="#707070" stroke-width="0.8"/>
<text x="51.9" y="382.0" text-anchor="middle" font-size="7.2" fill="#2a2a2a">100</text>
<line x1="72.4" y1="371.4" x2="72.4" y2="370.2" stroke="#707070" stroke-width="0.8"/>
<line x1="72.4" y1="279.4" x2="72.4" y2="280.59999999999997" stroke="#707070" stroke-width="0.8"/>
<text x="72.4" y="382.0" text-anchor="middle" font-size="7.2" fill="#2a2a2a">200</text>
<line x1="92.9" y1="371.4" x2="92.9" y2="370.2" stroke="#707070" stroke-width="0.8"/>
<line x1="92.9" y1="279.4" x2="92.9" y2="280.59999999999997" stroke="#707070" stroke-width="0.8"/>
<text x="92.9" y="382.0" text-anchor="middle" font-size="7.2" fill="#2a2a2a">300</text>
<line x1="113.4" y1="371.4" x2="113.4" y2="370.2" stroke="#707070" stroke-width="0.8"/>
<line x1="113.4" y1="279.4" x2="113.4" y2="280.59999999999997" stroke="#707070" stroke-width="0.8"/>
<text x="113.4" y="382.0" text-anchor="middle" font-size="7.2" fill="#2a2a2a">400</text>
<line x1="133.9" y1="371.4" x2="133.9" y2="370.2" stroke="#707070" stroke-width="0.8"/>
<line x1="133.9" y1="279.4" x2="133.9" y2="280.59999999999997" stroke="#707070" stroke-width="0.8"/>
<text x="133.9" y="382.0" text-anchor="middle" font-size="7.2" fill="#2a2a2a">500</text>
<text x="82.7" y="393.2" text-anchor="middle" font-size="8.2" fill="#2a2a2a">Iteration</text>
<text x="82.7" y="277.1" text-anchor="middle" font-size="7.7" font-weight="normal" fill="#1a1a1a" style="stroke:#1a1a1a;stroke-width:0.3px">F7</text>
<text transform="translate(9.5,328.4) rotate(-90)" text-anchor="middle" font-size="8" fill="#2a2a2a">Fitness</text>
<line x1="31.4" y1="316.3" x2="32.6" y2="316.3" stroke="#707070" stroke-width="0.8"/>
<text x="28.8" y="318.9" text-anchor="end" font-size="7.2" fill="#2a2a2a">10<tspan dx="0.3" dy="-3.7" font-size="6.4">0</tspan></text>
<line x1="31.4" y1="367" x2="32.6" y2="367" stroke="#707070" stroke-width="0.8"/>
<text x="28.8" y="369.6" text-anchor="end" font-size="7.2" fill="#2a2a2a">10<tspan dx="0.3" dy="-3.7" font-size="6.4">−4</tspan></text>
<rect x="174.5" y="278.5" width="103.0" height="93.0" fill="none" stroke="#9a9a9a" stroke-width="1"/>
<clipPath id="cF8"><rect x="174.04999999999998" y="278.09999999999997" width="104.05000000000001" height="93.9"/></clipPath>
<g clip-path="url(#cF8)">
<polyline points="174.9,280.0 175.0,291.7 277.3,291.5" fill="none" stroke="#d04a14" stroke-width="1.3" stroke-dasharray="3.8 4" stroke-dashoffset="1.9"/>
<polyline points="175.0,285.0 179.0,294.7 222.0,296.0 277.3,299.0" fill="none" stroke="#00ffff" stroke-width="1.3" stroke-dasharray="3.8 4" stroke-dashoffset="3.9"/>
<polyline points="175.0,290.0 180.0,296.0 222.0,297.2 277.3,297.4" fill="none" stroke="#ffe000" stroke-width="1.3" stroke-dasharray="3.8 4" stroke-dashoffset="5.8"/>
<polyline points="175.0,285.0 180.0,293.0 200.0,294.5 222.0,295.2 236.2,299.1 245.1,303.6 251.4,304.5 253.1,309.8 262.9,312.5 268.3,313.4 277.3,315.5" fill="none" stroke="#ff00ff" stroke-width="1.3" stroke-dasharray="3.8 4" stroke-dashoffset="0"/>
<polyline points="174.7,292.0 179.1,293.8 180.9,297.0 202.3,297.4 204.1,302.8 257.6,303.6 264.7,305.4 269.2,311.6 270.0,322.3 275.4,327.6 277.3,338.0" fill="none" stroke="#9a30b0" stroke-width="1.3" stroke-dasharray="3.8 4" stroke-dashoffset="0"/>
<polyline points="174.7,296.5 179.1,299.2 184.5,301.9 277.3,301.8" fill="none" stroke="#00ee00" stroke-width="1.3" stroke-dasharray="3.8 4" stroke-dashoffset="0"/>
<polyline points="176.0,297.0 179.1,299.2 184.5,302.8 186.3,305.4 195.2,309.0 207.7,313.5 216.6,316.1 232.7,318.7 246.9,321.4 248.7,325.8 277.3,326.2" fill="none" stroke="#000000" stroke-width="1.3" stroke-dasharray="3.8 4" stroke-dashoffset="0"/>
<polyline points="174.7,302.8 175.6,320.6 175.6,338.4 179.1,342.9 186.3,344.7 198.8,347.0 277.3,347.2" fill="none" stroke="#0000ff" stroke-width="1.3" stroke-dasharray="3.8 4" stroke-dashoffset="0"/>
<polyline points="178.5,300.0 181.1,318.7 183.8,328.7 186.5,336.0 192.0,343.3 199.3,348.7 206.5,355.1 213.8,358.7 222.9,360.0 232.0,360.5 277.3,361.4" fill="none" stroke="#ff8a1a" stroke-width="1.3" stroke-dasharray="3.8 4" stroke-dashoffset="0"/>
<polyline points="174.7,301.0 178.2,306.3 179.1,320.6 179.5,359.8 184.5,362.5 188.0,364.3 191.6,367.0 207.7,369.6 277.3,371.2" fill="none" stroke="#ff0000" stroke-width="1.8" stroke-linejoin="round"/>
</g>
<line x1="174.8" y1="371.2" x2="174.8" y2="370.0" stroke="#707070" stroke-width="0.8"/>
<line x1="174.8" y1="278.9" x2="174.8" y2="280.09999999999997" stroke="#707070" stroke-width="0.8"/>
<text x="174.8" y="381.8" text-anchor="middle" font-size="7.2" fill="#2a2a2a">0</text>
<line x1="195.3" y1="371.2" x2="195.3" y2="370.0" stroke="#707070" stroke-width="0.8"/>
<line x1="195.3" y1="278.9" x2="195.3" y2="280.09999999999997" stroke="#707070" stroke-width="0.8"/>
<text x="195.3" y="381.8" text-anchor="middle" font-size="7.2" fill="#2a2a2a">100</text>
<line x1="215.8" y1="371.2" x2="215.8" y2="370.0" stroke="#707070" stroke-width="0.8"/>
<line x1="215.8" y1="278.9" x2="215.8" y2="280.09999999999997" stroke="#707070" stroke-width="0.8"/>
<text x="215.8" y="381.8" text-anchor="middle" font-size="7.2" fill="#2a2a2a">200</text>
<line x1="236.3" y1="371.2" x2="236.3" y2="370.0" stroke="#707070" stroke-width="0.8"/>
<line x1="236.3" y1="278.9" x2="236.3" y2="280.09999999999997" stroke="#707070" stroke-width="0.8"/>
<text x="236.3" y="381.8" text-anchor="middle" font-size="7.2" fill="#2a2a2a">300</text>
<line x1="256.8" y1="371.2" x2="256.8" y2="370.0" stroke="#707070" stroke-width="0.8"/>
<line x1="256.8" y1="278.9" x2="256.8" y2="280.09999999999997" stroke="#707070" stroke-width="0.8"/>
<text x="256.8" y="381.8" text-anchor="middle" font-size="7.2" fill="#2a2a2a">400</text>
<line x1="277.3" y1="371.2" x2="277.3" y2="370.0" stroke="#707070" stroke-width="0.8"/>
<line x1="277.3" y1="278.9" x2="277.3" y2="280.09999999999997" stroke="#707070" stroke-width="0.8"/>
<text x="277.3" y="381.8" text-anchor="middle" font-size="7.2" fill="#2a2a2a">500</text>
<text x="226.1" y="393.0" text-anchor="middle" font-size="8.2" fill="#2a2a2a">Iteration</text>
<text x="226.1" y="276.6" text-anchor="middle" font-size="7.7" font-weight="normal" fill="#1a1a1a" style="stroke:#1a1a1a;stroke-width:0.3px">F8</text>
<text transform="translate(150.1,325.0) rotate(-90)" text-anchor="middle" font-size="8" fill="#2a2a2a">Fitness</text>
<line x1="174.85" y1="280.5" x2="176.04999999999998" y2="280.5" stroke="#707070" stroke-width="0.8"/>
<text x="172.2" y="283.1" text-anchor="end" font-size="7.2" fill="#2a2a2a">−10<tspan dx="0.3" dy="-3.7" font-size="6.4">3</tspan></text>
<line x1="174.85" y1="360.5" x2="176.04999999999998" y2="360.5" stroke="#707070" stroke-width="0.8"/>
<text x="172.2" y="363.1" text-anchor="end" font-size="7.2" fill="#2a2a2a">−10<tspan dx="0.3" dy="-3.7" font-size="6.4">4</tspan></text>
<rect x="318.5" y="278.5" width="103.0" height="93.0" fill="none" stroke="#9a9a9a" stroke-width="1"/>
<clipPath id="cF9"><rect x="317.7" y="277.2" width="104.70000000000002" height="94.99999999999997"/></clipPath>
<g clip-path="url(#cF9)">
<polyline points="318.6,282.1 366.0,282.5 380.2,283.0 383.8,284.3 419.4,284.8 421.6,287.0" fill="none" stroke="#9a30b0" stroke-width="1.3" stroke-dasharray="3.8 4" stroke-dashoffset="0"/>
<polyline points="318.6,282.5 366.0,283.9 376.7,285.3 380.2,287.5 392.7,287.8 396.2,289.2 421.6,289.2" fill="none" stroke="#00ee00" stroke-width="1.3" stroke-dasharray="3.8 4" stroke-dashoffset="0"/>
<polyline points="319.0,282.0 326.9,282.4 334.2,284.2 339.6,288.7 344.2,296.0 347.8,306.9 352.4,317.8 357.8,330.5 363.3,341.5 368.7,352.4 373.1,360.4 378.5,366.6 421.6,367.2" fill="none" stroke="#ff00ff" stroke-width="1.3" stroke-dasharray="3.8 4" stroke-dashoffset="0"/>
<polyline points="319.0,282.0 326.0,284.0 330.5,288.7 333.3,294.2 336.9,301.5 341.5,307.8 345.1,316.0 347.8,325.1 350.5,336.0 353.3,348.7 356.0,366.9 356.6,372.0" fill="none" stroke="#0000ff" stroke-width="1.3" stroke-dasharray="3.8 4" stroke-dashoffset="0"/>
<polyline points="319.0,282.0 332.0,292.8 335.6,307.1 339.2,319.6 342.8,337.4 346.3,355.3 348.1,369.5 348.5,372.0" fill="none" stroke="#d04a14" stroke-width="1.3" stroke-dasharray="3.8 4" stroke-dashoffset="1.9"/>
<polyline points="319.0,282.0 330.3,296.4 333.8,310.7 335.6,325.0 339.2,337.4 342.8,349.9 346.3,364.2 347.0,372.0" fill="none" stroke="#ffe000" stroke-width="1.3" stroke-dasharray="3.8 4" stroke-dashoffset="5.8"/>
<polyline points="319.0,282.0 323.1,287.5 326.7,301.8 330.3,321.4 337.4,342.8 342.8,357.0 346.3,367.7 347.0,372.0" fill="none" stroke="#ff8a1a" stroke-width="1.3" stroke-dasharray="3.8 4" stroke-dashoffset="0"/>
<polyline points="319.0,282.0 325.0,288.0 328.5,292.8 329.4,310.7 330.3,328.5 332.0,346.3 333.8,369.5 334.0,372.0" fill="none" stroke="#00ffff" stroke-width="1.3" stroke-dasharray="3.8 4" stroke-dashoffset="3.9"/>
<polyline points="319.0,290.0 320.5,312.5 322.2,337.4 324.0,355.3 324.6,369.5 324.8,372.0" fill="none" stroke="#000000" stroke-width="1.3" stroke-dasharray="3.8 4" stroke-dashoffset="0"/>
<polyline points="319.7,289.3 319.7,308.9" fill="none" stroke="#ff0000" stroke-width="1.8" stroke-linejoin="round"/>
</g>
<line x1="318.5" y1="371.4" x2="318.5" y2="370.2" stroke="#707070" stroke-width="0.8"/>
<line x1="318.5" y1="278" x2="318.5" y2="279.2" stroke="#707070" stroke-width="0.8"/>
<text x="318.5" y="382.0" text-anchor="middle" font-size="7.2" fill="#2a2a2a">0</text>
<line x1="339.1" y1="371.4" x2="339.1" y2="370.2" stroke="#707070" stroke-width="0.8"/>
<line x1="339.1" y1="278" x2="339.1" y2="279.2" stroke="#707070" stroke-width="0.8"/>
<text x="339.1" y="382.0" text-anchor="middle" font-size="7.2" fill="#2a2a2a">100</text>
<line x1="359.7" y1="371.4" x2="359.7" y2="370.2" stroke="#707070" stroke-width="0.8"/>
<line x1="359.7" y1="278" x2="359.7" y2="279.2" stroke="#707070" stroke-width="0.8"/>
<text x="359.7" y="382.0" text-anchor="middle" font-size="7.2" fill="#2a2a2a">200</text>
<line x1="380.4" y1="371.4" x2="380.4" y2="370.2" stroke="#707070" stroke-width="0.8"/>
<line x1="380.4" y1="278" x2="380.4" y2="279.2" stroke="#707070" stroke-width="0.8"/>
<text x="380.4" y="382.0" text-anchor="middle" font-size="7.2" fill="#2a2a2a">300</text>
<line x1="401.0" y1="371.4" x2="401.0" y2="370.2" stroke="#707070" stroke-width="0.8"/>
<line x1="401.0" y1="278" x2="401.0" y2="279.2" stroke="#707070" stroke-width="0.8"/>
<text x="401.0" y="382.0" text-anchor="middle" font-size="7.2" fill="#2a2a2a">400</text>
<line x1="421.6" y1="371.4" x2="421.6" y2="370.2" stroke="#707070" stroke-width="0.8"/>
<line x1="421.6" y1="278" x2="421.6" y2="279.2" stroke="#707070" stroke-width="0.8"/>
<text x="421.6" y="382.0" text-anchor="middle" font-size="7.2" fill="#2a2a2a">500</text>
<text x="370.1" y="393.2" text-anchor="middle" font-size="8.2" fill="#2a2a2a">Iteration</text>
<text x="370.1" y="275.8" text-anchor="middle" font-size="7.7" font-weight="normal" fill="#1a1a1a" style="stroke:#1a1a1a;stroke-width:0.3px">F9</text>
<text transform="translate(291.7,325.3) rotate(-90)" text-anchor="middle" font-size="8" fill="#2a2a2a">Fitness</text>
<line x1="318.5" y1="298.3" x2="319.7" y2="298.3" stroke="#707070" stroke-width="0.8"/>
<text x="315.9" y="300.9" text-anchor="end" font-size="7.2" fill="#2a2a2a">10<tspan dx="0.3" dy="-3.7" font-size="6.4">0</tspan></text>
<line x1="318.5" y1="355" x2="319.7" y2="355" stroke="#707070" stroke-width="0.8"/>
<text x="315.9" y="357.6" text-anchor="end" font-size="7.2" fill="#2a2a2a">10<tspan dx="0.3" dy="-3.7" font-size="6.4">−10</tspan></text>
<rect x="32.5" y="412.5" width="102.0" height="92.0" fill="none" stroke="#9a9a9a" stroke-width="1"/>
<clipPath id="cF10"><rect x="31.499999999999996" y="411.3" width="103.7" height="94.1"/></clipPath>
<g clip-path="url(#cF10)">
<polyline points="32.3,415.8 134.4,415.8" fill="none" stroke="#00ee00" stroke-width="1.3" stroke-dasharray="3.8 4" stroke-dashoffset="0"/>
<polyline points="32.3,416.1 115.0,416.1 120.9,417.0 134.4,419.0" fill="none" stroke="#9a30b0" stroke-width="1.3" stroke-dasharray="3.8 4" stroke-dashoffset="0"/>
<polyline points="33.0,416.5 38.0,420.0 42.0,425.0 47.0,432.5 51.1,439.3 55.2,447.5 59.3,453.0 63.4,459.8 67.5,465.3 73.0,470.7 80.0,477.5 85.3,482.0 90.7,486.4 97.8,490.9 104.9,492.6 134.4,492.6" fill="none" stroke="#ff00ff" stroke-width="1.3" stroke-dasharray="3.8 4" stroke-dashoffset="0"/>
<polyline points="33.0,416.5 40.2,421.6 42.9,425.7 48.4,431.1 55.2,435.2 59.3,439.3 63.4,444.8 66.8,451.6 70.3,458.4 73.0,465.3 75.7,470.7 79.9,483.9 82.7,496.2 83.6,500.0 134.4,500.0" fill="none" stroke="#0000ff" stroke-width="1.3" stroke-dasharray="3.8 4" stroke-dashoffset="0"/>
<polyline points="33.0,417.0 45.0,435.0 51.4,448.2 58.5,466.1 69.2,487.5 74.6,498.2 83.5,500.0 134.4,500.1" fill="none" stroke="#ffe000" stroke-width="1.3" stroke-dasharray="3.8 4" stroke-dashoffset="5.8"/>
<polyline points="33.0,417.0 35.4,418.8 40.7,428.6 46.0,441.1 51.4,450.0 56.8,460.7 62.1,473.2 67.5,489.3 71.0,498.2 74.6,500.8 134.4,500.6" fill="none" stroke="#ff8a1a" stroke-width="1.3" stroke-dasharray="3.8 4" stroke-dashoffset="0"/>
<polyline points="33.0,417.0 38.9,421.5 47.8,439.3 56.8,457.2 65.7,480.3 71.0,496.4 74.6,500.0 134.4,500.2" fill="none" stroke="#d04a14" stroke-width="1.3" stroke-dasharray="3.8 4" stroke-dashoffset="1.9"/>
<polyline points="33.0,417.0 35.4,423.0 36.8,432.5 39.5,444.8 40.9,455.7 42.9,470.7 46.2,489.8 48.9,498.9 50.0,500.3 134.4,500.3" fill="none" stroke="#00ffff" stroke-width="1.3" stroke-dasharray="3.8 4" stroke-dashoffset="3.9"/>
<polyline points="33.0,417.0 34.0,421.0 34.7,428.4 36.8,440.7 38.1,455.7 39.5,469.4 43.4,485.7 46.2,502.5 46.5,504.6" fill="none" stroke="#000000" stroke-width="1.3" stroke-dasharray="3.8 4" stroke-dashoffset="0"/>
<polyline points="33.2,416.1 33.2,503.6 134.4,503.6" fill="none" stroke="#ff0000" stroke-width="1.8" stroke-linejoin="round"/>
</g>
<line x1="32.3" y1="504.6" x2="32.3" y2="503.40000000000003" stroke="#707070" stroke-width="0.8"/>
<line x1="32.3" y1="412.1" x2="32.3" y2="413.3" stroke="#707070" stroke-width="0.8"/>
<text x="32.3" y="515.2" text-anchor="middle" font-size="7.2" fill="#2a2a2a">0</text>
<line x1="52.7" y1="504.6" x2="52.7" y2="503.40000000000003" stroke="#707070" stroke-width="0.8"/>
<line x1="52.7" y1="412.1" x2="52.7" y2="413.3" stroke="#707070" stroke-width="0.8"/>
<text x="52.7" y="515.2" text-anchor="middle" font-size="7.2" fill="#2a2a2a">100</text>
<line x1="73.1" y1="504.6" x2="73.1" y2="503.40000000000003" stroke="#707070" stroke-width="0.8"/>
<line x1="73.1" y1="412.1" x2="73.1" y2="413.3" stroke="#707070" stroke-width="0.8"/>
<text x="73.1" y="515.2" text-anchor="middle" font-size="7.2" fill="#2a2a2a">200</text>
<line x1="93.6" y1="504.6" x2="93.6" y2="503.40000000000003" stroke="#707070" stroke-width="0.8"/>
<line x1="93.6" y1="412.1" x2="93.6" y2="413.3" stroke="#707070" stroke-width="0.8"/>
<text x="93.6" y="515.2" text-anchor="middle" font-size="7.2" fill="#2a2a2a">300</text>
<line x1="114.0" y1="504.6" x2="114.0" y2="503.40000000000003" stroke="#707070" stroke-width="0.8"/>
<line x1="114.0" y1="412.1" x2="114.0" y2="413.3" stroke="#707070" stroke-width="0.8"/>
<text x="114.0" y="515.2" text-anchor="middle" font-size="7.2" fill="#2a2a2a">400</text>
<line x1="134.4" y1="504.6" x2="134.4" y2="503.40000000000003" stroke="#707070" stroke-width="0.8"/>
<line x1="134.4" y1="412.1" x2="134.4" y2="413.3" stroke="#707070" stroke-width="0.8"/>
<text x="134.4" y="515.2" text-anchor="middle" font-size="7.2" fill="#2a2a2a">500</text>
<text x="83.3" y="526.4" text-anchor="middle" font-size="8.2" fill="#2a2a2a">Iteration</text>
<text x="83.3" y="409.9" text-anchor="middle" font-size="7.7" font-weight="normal" fill="#1a1a1a" style="stroke:#1a1a1a;stroke-width:0.3px">F10</text>
<text transform="translate(9.9,459.0) rotate(-90)" text-anchor="middle" font-size="8" fill="#2a2a2a">Fitness</text>
<line x1="32.3" y1="424.8" x2="33.5" y2="424.8" stroke="#707070" stroke-width="0.8"/>
<text x="29.7" y="427.4" text-anchor="end" font-size="7.2" fill="#2a2a2a">10<tspan dx="0.3" dy="-3.7" font-size="6.4">0</tspan></text>
<line x1="32.3" y1="478" x2="33.5" y2="478" stroke="#707070" stroke-width="0.8"/>
<text x="29.7" y="480.6" text-anchor="end" font-size="7.2" fill="#2a2a2a">10<tspan dx="0.3" dy="-3.7" font-size="6.4">−10</tspan></text>
<rect x="175.5" y="413.5" width="103.0" height="91.0" fill="none" stroke="#9a9a9a" stroke-width="1"/>
<clipPath id="cF11"><rect x="174.7" y="412.7" width="104.6" height="92.9"/></clipPath>
<g clip-path="url(#cF11)">
<polyline points="175.6,414.9 223.0,416.3 237.2,417.8 249.7,419.0 258.6,421.7 269.3,423.8 278.5,427.5" fill="none" stroke="#9a30b0" stroke-width="1.3" stroke-dasharray="3.8 4" stroke-dashoffset="0"/>
<polyline points="176.0,415.5 190.8,416.4 203.3,418.1 217.6,420.8 223.0,422.6 226.6,426.1 240.8,427.4 278.5,428.1" fill="none" stroke="#00ee00" stroke-width="1.3" stroke-dasharray="3.8 4" stroke-dashoffset="0"/>
<polyline points="176.0,416.0 180.0,424.0 183.7,428.8 190.8,431.5 196.2,434.2 208.7,436.0 278.5,436.8" fill="none" stroke="#ff00ff" stroke-width="1.3" stroke-dasharray="3.8 4" stroke-dashoffset="0"/>
<polyline points="176.0,416.0 178.4,422.6 183.0,428.0 190.8,437.8 196.2,444.9 201.5,459.2 205.1,471.6 208.7,478.8 211.3,485.9 213.1,494.8" fill="none" stroke="#0000ff" stroke-width="1.3" stroke-dasharray="3.8 4" stroke-dashoffset="0"/>
<polyline points="176.0,418.0 180.0,426.0 183.7,428.8 189.0,441.3 192.6,450.2 196.2,460.9 199.8,473.4 203.3,485.9 206.0,500.2 206.5,505.0" fill="none" stroke="#d04a14" stroke-width="1.3" stroke-dasharray="3.8 4" stroke-dashoffset="1.9"/>
<polyline points="176.0,420.0 181.9,432.4 185.5,443.1 189.0,453.8 192.6,464.5 196.2,478.8 199.8,493.0 201.5,505.0" fill="none" stroke="#ff8a1a" stroke-width="1.3" stroke-dasharray="3.8 4" stroke-dashoffset="0"/>
<polyline points="177.0,425.0 184.0,440.0 187.3,446.7 190.8,457.4 194.4,469.9 198.0,485.9 201.5,502.0 202.0,505.0" fill="none" stroke="#ffe000" stroke-width="1.3" stroke-dasharray="3.8 4" stroke-dashoffset="5.8"/>
<polyline points="176.0,420.0 178.4,432.4 180.1,446.7 181.9,462.7 183.7,478.8 185.5,494.8 186.4,503.7 186.5,505.0" fill="none" stroke="#00ffff" stroke-width="1.3" stroke-dasharray="3.8 4" stroke-dashoffset="3.9"/>
<polyline points="176.0,425.0 176.6,437.8 178.4,455.6 179.2,469.9 181.0,485.9 181.9,502.0 182.0,505.0" fill="none" stroke="#000000" stroke-width="1.3" stroke-dasharray="3.8 4" stroke-dashoffset="0"/>
<polyline points="176.4,421.7 176.4,436.0" fill="none" stroke="#ff0000" stroke-width="1.8" stroke-linejoin="round"/>
</g>
<line x1="175.5" y1="504.8" x2="175.5" y2="503.6" stroke="#707070" stroke-width="0.8"/>
<line x1="175.5" y1="413.5" x2="175.5" y2="414.7" stroke="#707070" stroke-width="0.8"/>
<text x="175.5" y="515.4" text-anchor="middle" font-size="7.2" fill="#2a2a2a">0</text>
<line x1="196.1" y1="504.8" x2="196.1" y2="503.6" stroke="#707070" stroke-width="0.8"/>
<line x1="196.1" y1="413.5" x2="196.1" y2="414.7" stroke="#707070" stroke-width="0.8"/>
<text x="196.1" y="515.4" text-anchor="middle" font-size="7.2" fill="#2a2a2a">100</text>
<line x1="216.7" y1="504.8" x2="216.7" y2="503.6" stroke="#707070" stroke-width="0.8"/>
<line x1="216.7" y1="413.5" x2="216.7" y2="414.7" stroke="#707070" stroke-width="0.8"/>
<text x="216.7" y="515.4" text-anchor="middle" font-size="7.2" fill="#2a2a2a">200</text>
<line x1="237.3" y1="504.8" x2="237.3" y2="503.6" stroke="#707070" stroke-width="0.8"/>
<line x1="237.3" y1="413.5" x2="237.3" y2="414.7" stroke="#707070" stroke-width="0.8"/>
<text x="237.3" y="515.4" text-anchor="middle" font-size="7.2" fill="#2a2a2a">300</text>
<line x1="257.9" y1="504.8" x2="257.9" y2="503.6" stroke="#707070" stroke-width="0.8"/>
<line x1="257.9" y1="413.5" x2="257.9" y2="414.7" stroke="#707070" stroke-width="0.8"/>
<text x="257.9" y="515.4" text-anchor="middle" font-size="7.2" fill="#2a2a2a">400</text>
<line x1="278.5" y1="504.8" x2="278.5" y2="503.6" stroke="#707070" stroke-width="0.8"/>
<line x1="278.5" y1="413.5" x2="278.5" y2="414.7" stroke="#707070" stroke-width="0.8"/>
<text x="278.5" y="515.4" text-anchor="middle" font-size="7.2" fill="#2a2a2a">500</text>
<text x="227.0" y="526.6" text-anchor="middle" font-size="8.2" fill="#2a2a2a">Iteration</text>
<text x="227.0" y="411.2" text-anchor="middle" font-size="7.7" font-weight="normal" fill="#1a1a1a" style="stroke:#1a1a1a;stroke-width:0.3px">F11</text>
<text transform="translate(149.7,460.2) rotate(-90)" text-anchor="middle" font-size="8" fill="#2a2a2a">Fitness</text>
<line x1="175.5" y1="430.5" x2="176.7" y2="430.5" stroke="#707070" stroke-width="0.8"/>
<text x="172.9" y="433.1" text-anchor="end" font-size="7.2" fill="#2a2a2a">10<tspan dx="0.3" dy="-3.7" font-size="6.4">0</tspan></text>
<line x1="175.5" y1="477" x2="176.7" y2="477" stroke="#707070" stroke-width="0.8"/>
<text x="172.9" y="479.6" text-anchor="end" font-size="7.2" fill="#2a2a2a">10<tspan dx="0.3" dy="-3.7" font-size="6.4">−10</tspan></text>
<rect x="318.5" y="411.5" width="103.0" height="93.0" fill="none" stroke="#9a9a9a" stroke-width="1"/>
<clipPath id="cF12"><rect x="317.4" y="410.59999999999997" width="104.70000000000002" height="94.4"/></clipPath>
<g clip-path="url(#cF12)">
<polyline points="318.5,417.0 355.0,417.0 357.0,419.7 366.0,418.8 371.3,422.3 375.8,426.8 382.0,427.7 392.7,431.2 401.6,435.7 407.8,437.5 408.7,457.0 410.5,457.9 421.3,458.8" fill="none" stroke="#9a30b0" stroke-width="1.3" stroke-dasharray="3.8 4" stroke-dashoffset="0"/>
<polyline points="318.5,417.0 355.2,417.5 366.0,418.8 371.3,422.3 375.8,426.8 378.5,432.1 379.3,455.3 383.8,459.7 392.7,461.5 421.3,461.8" fill="none" stroke="#00ee00" stroke-width="1.3" stroke-dasharray="3.8 4" stroke-dashoffset="0"/>
<polyline points="318.5,420.0 319.5,440.0 321.0,460.0 325.0,467.0 421.3,466.8" fill="none" stroke="#00ffff" stroke-width="1.3" stroke-dasharray="3.8 4" stroke-dashoffset="3.9"/>
<polyline points="318.5,420.0 320.0,445.0 322.0,462.0 326.0,469.5 421.3,469.5" fill="none" stroke="#ffe000" stroke-width="1.3" stroke-dasharray="3.8 4" stroke-dashoffset="5.8"/>
<polyline points="318.5,420.0 320.0,450.0 322.0,465.0 326.7,471.0 421.3,470.9" fill="none" stroke="#d04a14" stroke-width="1.3" stroke-dasharray="3.8 4" stroke-dashoffset="1.9"/>
<polyline points="318.5,420.0 320.0,450.0 323.0,466.0 326.7,471.1 342.8,472.9 369.5,473.6 421.3,474.5" fill="none" stroke="#ff00ff" stroke-width="1.3" stroke-dasharray="3.8 4" stroke-dashoffset="0"/>
<polyline points="318.5,420.0 321.0,445.0 323.1,457.2 328.5,461.6 335.6,462.5 337.4,467.9 342.8,472.3 360.6,473.2 369.5,475.5 421.3,475.2" fill="none" stroke="#0000ff" stroke-width="1.3" stroke-dasharray="3.8 4" stroke-dashoffset="0"/>
<polyline points="318.5,420.0 320.0,445.0 323.1,466.1 330.3,475.0 337.4,477.7 351.7,482.1 366.0,485.5 383.8,489.1 401.6,491.2 421.3,492.8" fill="none" stroke="#ff8a1a" stroke-width="1.3" stroke-dasharray="3.8 4" stroke-dashoffset="0"/>
<polyline points="318.7,480.0 319.6,491.9 389.1,492.1 390.0,499.7 421.3,500.1" fill="none" stroke="#000000" stroke-width="1.3" stroke-dasharray="3.8 4" stroke-dashoffset="0"/>
<polyline points="318.7,461.6 319.6,483.9 320.5,492.8 328.5,492.8 332.0,495.5 342.8,498.2 355.2,500.0 366.0,500.6 421.3,504.2" fill="none" stroke="#ff0000" stroke-width="1.8" stroke-linejoin="round"/>
</g>
<line x1="318.2" y1="504.2" x2="318.2" y2="503.0" stroke="#707070" stroke-width="0.8"/>
<line x1="318.2" y1="411.4" x2="318.2" y2="412.59999999999997" stroke="#707070" stroke-width="0.8"/>
<text x="318.2" y="514.8" text-anchor="middle" font-size="7.2" fill="#2a2a2a">0</text>
<line x1="338.8" y1="504.2" x2="338.8" y2="503.0" stroke="#707070" stroke-width="0.8"/>
<line x1="338.8" y1="411.4" x2="338.8" y2="412.59999999999997" stroke="#707070" stroke-width="0.8"/>
<text x="338.8" y="514.8" text-anchor="middle" font-size="7.2" fill="#2a2a2a">100</text>
<line x1="359.4" y1="504.2" x2="359.4" y2="503.0" stroke="#707070" stroke-width="0.8"/>
<line x1="359.4" y1="411.4" x2="359.4" y2="412.59999999999997" stroke="#707070" stroke-width="0.8"/>
<text x="359.4" y="514.8" text-anchor="middle" font-size="7.2" fill="#2a2a2a">200</text>
<line x1="380.1" y1="504.2" x2="380.1" y2="503.0" stroke="#707070" stroke-width="0.8"/>
<line x1="380.1" y1="411.4" x2="380.1" y2="412.59999999999997" stroke="#707070" stroke-width="0.8"/>
<text x="380.1" y="514.8" text-anchor="middle" font-size="7.2" fill="#2a2a2a">300</text>
<line x1="400.7" y1="504.2" x2="400.7" y2="503.0" stroke="#707070" stroke-width="0.8"/>
<line x1="400.7" y1="411.4" x2="400.7" y2="412.59999999999997" stroke="#707070" stroke-width="0.8"/>
<text x="400.7" y="514.8" text-anchor="middle" font-size="7.2" fill="#2a2a2a">400</text>
<line x1="421.3" y1="504.2" x2="421.3" y2="503.0" stroke="#707070" stroke-width="0.8"/>
<line x1="421.3" y1="411.4" x2="421.3" y2="412.59999999999997" stroke="#707070" stroke-width="0.8"/>
<text x="421.3" y="514.8" text-anchor="middle" font-size="7.2" fill="#2a2a2a">500</text>
<text x="369.8" y="526.0" text-anchor="middle" font-size="8.2" fill="#2a2a2a">Iteration</text>
<text x="369.8" y="409.1" text-anchor="middle" font-size="7.7" font-weight="normal" fill="#1a1a1a" style="stroke:#1a1a1a;stroke-width:0.3px">F12</text>
<text transform="translate(294.3,457.3) rotate(-90)" text-anchor="middle" font-size="8" fill="#2a2a2a">Fitness</text>
<line x1="318.2" y1="468.5" x2="319.4" y2="468.5" stroke="#707070" stroke-width="0.8"/>
<text x="315.6" y="471.1" text-anchor="end" font-size="7.2" fill="#2a2a2a">10<tspan dx="0.3" dy="-3.7" font-size="6.4">0</tspan></text>
<line x1="318.2" y1="496" x2="319.4" y2="496" stroke="#707070" stroke-width="0.8"/>
<text x="315.6" y="498.6" text-anchor="end" font-size="7.2" fill="#2a2a2a">10<tspan dx="0.3" dy="-3.7" font-size="6.4">−5</tspan></text>
<line x1="8" y1="544.5" x2="28" y2="544.5" stroke="#000000" stroke-width="1.1" stroke-dasharray="3.8 4.3"/>
<text x="30" y="546.9" font-size="6.6" fill="#2a2a2a">AO</text>
<line x1="43.8" y1="544.5" x2="63.8" y2="544.5" stroke="#ff00ff" stroke-width="1.1" stroke-dasharray="3.8 4.3"/>
<text x="66.3" y="546.9" font-size="6.6" fill="#2a2a2a">GWO</text>
<line x1="86.4" y1="544.5" x2="106.4" y2="544.5" stroke="#0000ff" stroke-width="1.1" stroke-dasharray="3.8 4.3"/>
<text x="108.2" y="546.9" font-size="6.6" fill="#2a2a2a">WOA</text>
<line x1="127.6" y1="544.5" x2="147.6" y2="544.5" stroke="#00ee00" stroke-width="1.1" stroke-dasharray="3.8 4.3"/>
<text x="150" y="546.9" font-size="6.6" fill="#2a2a2a">SCA</text>
<line x1="168" y1="544.5" x2="188" y2="544.5" stroke="#00ffff" stroke-width="1.1" stroke-dasharray="3.8 4.3"/>
<text x="189.7" y="546.9" font-size="6.6" fill="#2a2a2a">TSA</text>
<line x1="207" y1="544.5" x2="227" y2="544.5" stroke="#ffe000" stroke-width="1.1" stroke-dasharray="3.8 4.3"/>
<text x="228.8" y="546.9" font-size="6.6" fill="#2a2a2a">GJO</text>
<line x1="246.4" y1="544.5" x2="266.4" y2="544.5" stroke="#ff8a1a" stroke-width="1.1" stroke-dasharray="3.8 4.3"/>
<text x="268.2" y="546.9" font-size="6.6" fill="#2a2a2a">ARO</text>
<line x1="287" y1="544.5" x2="307" y2="544.5" stroke="#d04a14" stroke-width="1.1" stroke-dasharray="3.8 4.3"/>
<text x="308.8" y="546.9" font-size="6.6" fill="#2a2a2a">WChOA</text>
<line x1="337.1" y1="544.5" x2="357.1" y2="544.5" stroke="#9a30b0" stroke-width="1.1" stroke-dasharray="3.8 4.3"/>
<text x="359" y="546.9" font-size="6.6" fill="#2a2a2a">DAOA</text>
<line x1="381.6" y1="544.5" x2="401.6" y2="544.5" stroke="#ff0000" stroke-width="1.6"/>
<text x="403.8" y="546.9" font-size="6.6" fill="#2a2a2a">CHAOARO</text>
</svg>
</body></html>
